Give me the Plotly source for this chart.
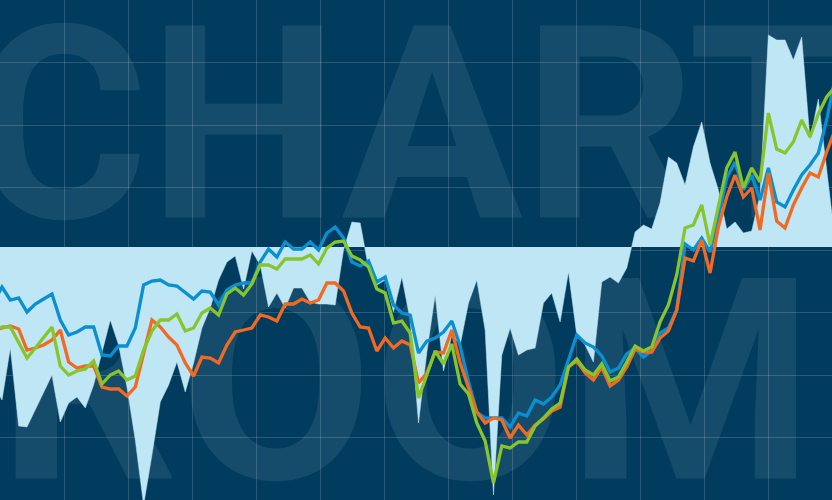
import plotly.graph_objects as go

# Period index (one point per period; the first and last fall just outside the frame)
periods = list(range(102))

# Shaded series (light-blue area, measured from zero)
area_values = [
    -138, -153, -101, -179, -180, -163, -146, -128, -175, -156, -150, -161, -138, -105, -73, -98,
    -140, -193, -258, -208, -155, -138, -115, -145, -116, -81, -61, -33, -15, -9, -42, -4,
    -18, -60, -46, -61, -41, -41, -55, -57, -57, -58, -3, 25, 24, -21, -38, -33,
    -65, -30, -73, -176, -105, -48, -124, -88, -98, -56, -33, -83, -248, -108, -81, -108,
    -103, -101, -56, -46, -75, -25, -88, -98, -115, -35, -30, -36, -21, 15, 22, 18,
    44, 90, 84, 62, 100, 125, 84, 57, 18, 25, 14, 16, 52, 212, 207, 207,
    187, 210, 107, 148, 77, 7,
]

blue_values = [
    -55, -40, -53, -51, -65, -57, -52, -47, -73, -88, -85, -80, -80, -108, -109, -99,
    -99, -81, -38, -34, -33, -38, -39, -46, -52, -44, -45, -58, -43, -38, -36, -36,
    -15, -2, -10, 5, -2, -2, 5, -3, 14, 20, 9, -15, -19, -14, -35, -30,
    -58, -66, -68, -106, -94, -91, -85, -74, -99, -135, -165, -171, -171, -171, -180, -166,
    -169, -153, -157, -150, -138, -114, -88, -96, -100, -109, -125, -121, -107, -101, -110, -104,
    -86, -81, -63, 3, -3, 9, -5, 30, 69, 85, 57, 72, 47, 79, 45, 40,
    57, 72, 82, 94, 127, 169,
]

orange_values = [
    -83, -81, -79, -82, -103, -101, -98, -93, -83, -115, -121, -119, -119, -140, -142, -142,
    -149, -140, -105, -73, -80, -90, -98, -116, -129, -110, -111, -116, -98, -85, -83, -81,
    -68, -70, -74, -57, -57, -52, -56, -53, -36, -36, -44, -66, -80, -81, -104, -91,
    -101, -94, -98, -136, -126, -105, -106, -83, -116, -141, -165, -176, -171, -173, -191, -178,
    -188, -178, -172, -164, -160, -120, -114, -126, -133, -120, -139, -133, -120, -102, -105, -105,
    -91, -84, -63, -11, -14, 7, -26, 20, 50, 72, 50, 59, 17, 74, 26, 19,
    42, 59, 74, 70, 95, 117,
]

green_values = [
    -83, -80, -80, -96, -111, -101, -90, -80, -119, -128, -124, -122, -114, -137, -128, -124,
    -133, -129, -103, -84, -73, -73, -67, -84, -81, -66, -61, -68, -47, -41, -48, -37,
    -18, -18, -22, -12, -12, -12, -8, -17, -1, 5, 6, -9, -13, -20, -42, -46,
    -76, -74, -86, -151, -128, -104, -117, -97, -137, -147, -176, -194, -236, -199, -201, -195,
    -195, -179, -171, -162, -156, -120, -112, -123, -128, -117, -134, -130, -115, -99, -104, -100,
    -75, -58, -28, 19, 22, 42, 2, 40, 79, 95, 59, 79, 65, 134, 98, 94,
    105, 127, 110, 133, 150, 160,
]

# Background words
words = ["CHART", "ROOM"]

BG = "#013c5e"
AREA = "#bfe6f5"
BLUE = "#0a8fd1"
ORANGE = "#f26a21"
GREEN = "#86c52b"

fig = go.Figure()

# Big translucent words, drawn first so the area and lines cover them
fig.add_trace(go.Scatter(
    x=[50.4, 49.5], y=[97, -161], mode="text",
    text=words,
    textposition="middle center",
    textfont=dict(family="Roboto", size=[270, 282], color="rgba(255,255,255,0.085)", weight=700),
    hoverinfo="skip", showlegend=False,
))

fig.add_trace(go.Scatter(
    x=periods, y=area_values, mode="lines", fill="tozeroy",
    fillcolor=AREA, line=dict(color=AREA, width=0.5),
    hoverinfo="skip", showlegend=False,
))

for vals, col in [(blue_values, BLUE), (orange_values, ORANGE), (green_values, GREEN)]:
    fig.add_trace(go.Scatter(
        x=periods, y=vals, mode="lines",
        line=dict(color=col, width=3.3, shape="linear"),
        showlegend=False,
    ))

grid = "rgba(255,255,255,0.16)"
fig.update_layout(
    width=832, height=500,
    margin=dict(l=0, r=0, t=0, b=0),
    paper_bgcolor=BG, plot_bgcolor=BG,
    xaxis=dict(range=[0.76, 100.64], showticklabels=False, zeroline=False,
               showgrid=True, gridcolor=grid, gridwidth=1,
               tick0=0.76, dtick=64 / 8.33, fixedrange=True),
    yaxis=dict(range=[-253, 247], showticklabels=False, zeroline=False,
               showgrid=True, gridcolor=grid, gridwidth=1,
               tick0=-3, dtick=62.5, fixedrange=True),
)

fig.write_html("out.html", config={"displayModeBar": False},
               post_script="document.body.style.margin='0';document.body.style.background='" + BG + "';")
